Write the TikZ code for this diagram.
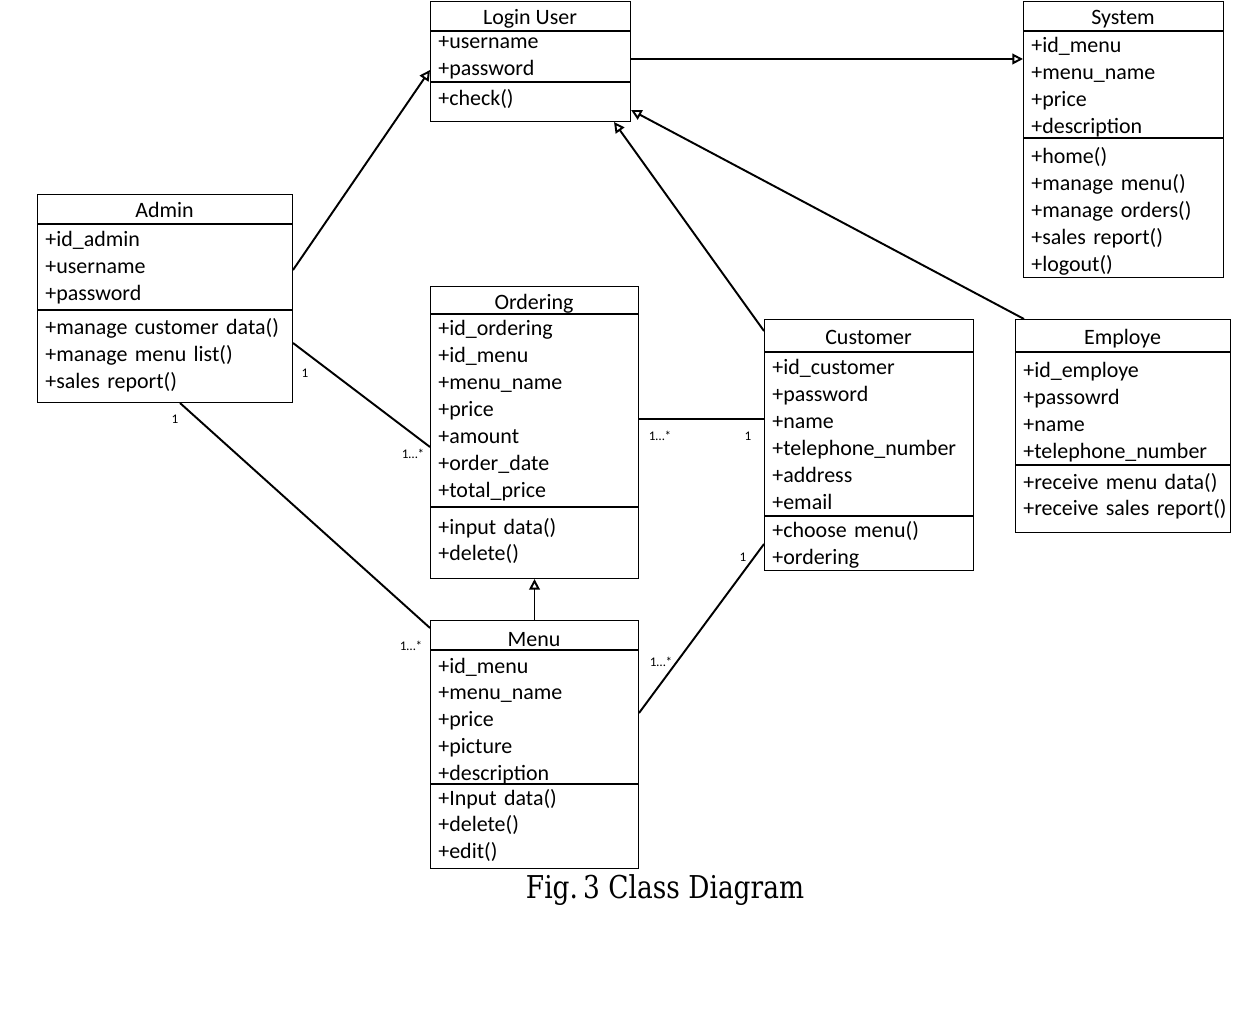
\documentclass[tikz,border=0pt]{standalone}
\usepackage{fontspec}
\setmainfont{Carlito}
\newfontfamily\captionfont[FakeStretch=0.84]{DejaVu Serif}
\usepackage{tikz}
\usetikzlibrary{positioning,arrows.meta}
\newcommand{\classfont}{\fontsize{12.5}{15.36}\selectfont}

\begin{document}
\begin{tikzpicture}[x=0.02cm, y=-0.02cm,
    classbox/.style={draw, line width=0.6pt, anchor=north west, inner sep=0pt},
    title/.style={anchor=base, inner sep=0pt, font=\classfont},
    members/.style={anchor=base west, inner sep=0pt, text width=6cm, align=left, font=\classfont},
    thinrule/.style={line width=0.6pt},
    thickrule/.style={line width=1.1pt},
    link/.style={line width=1.1pt},
    gen/.style={link, -{Triangle[open, length=6pt, width=6pt]}},
    mult/.style={inner sep=0pt, font=\fontsize{7.5}{9}\selectfont}]
    \useasboundingbox (0,0) rectangle (1247,1023);

    \node[classbox, minimum width=4cm, minimum height=2.4cm] (login) at (430,1) {};
    \node[title] (login-title) at (530,25) {Login User};
    \draw[thinrule] (login.west |- 0,31) -- (login.east |- 0,31);
    \node[members] (login-attr) at (438,49) {+username\\+password};
    \draw[thickrule] (login.west |- 0,82) -- (login.east |- 0,82);
    \node[members] (login-ops) at (438,106) {+check()};

    \node[classbox, minimum width=4cm, minimum height=5.52cm] (system) at (1023,1) {};
    \node[title] (system-title) at (1123,25) {System};
    \draw[thinrule] (system.west |- 0,31) -- (system.east |- 0,31);
    \node[members] (system-attr) at (1031,53)
      {+id\_menu\\+menu\_name\\+price\\+description};
    \draw[thickrule] (system.west |- 0,138) -- (system.east |- 0,138);
    \node[members] (system-ops) at (1031,164)
      {+home()\\+manage menu()\\+manage orders()\\+sales report()\\+logout()};

    \node[classbox, minimum width=5.1cm, minimum height=4.16cm] (admin) at (37,194) {};
    \node[title] (admin-title) at (164.5,218) {Admin};
    \draw[thickrule] (admin.west |- 0,224) -- (admin.east |- 0,224);
    \node[members] (admin-attr) at (45,247) {+id\_admin\\+username\\+password};
    \draw[thickrule] (admin.west |- 0,310) -- (admin.east |- 0,310);
    \node[members] (admin-ops) at (45,335)
      {+manage customer data()\\+manage menu list()\\+sales report()};

    \node[classbox, minimum width=4.16cm, minimum height=5.84cm] (ordering) at (430,286) {};
    \node[title] (ordering-title) at (534,310) {Ordering};
    \draw[thickrule] (ordering.west |- 0,314) -- (ordering.east |- 0,314);
    \node[members] (ordering-attr) at (438,336)
      {+id\_ordering\\+id\_menu\\+menu\_name\\+price\\+amount\\+order\_date\\+total\_price};
    \draw[thickrule] (ordering.west |- 0,507) -- (ordering.east |- 0,507);
    \node[members] (ordering-ops) at (438,534) {+input data()\\+delete()};

    \node[classbox, minimum width=4.18cm, minimum height=5.02cm] (customer) at (764,319) {};
    \node[title] (customer-title) at (868.5,345) {Customer};
    \draw[thickrule] (customer.west |- 0,352) -- (customer.east |- 0,352);
    \node[members] (customer-attr) at (772,375)
      {+id\_customer\\+password\\+name\\+telephone\_number\\+address\\+email};
    \draw[thickrule] (customer.west |- 0,516) -- (customer.east |- 0,516);
    \node[members] (customer-ops) at (772,538) {+choose menu()\\+ordering};

    \node[classbox, minimum width=4.3cm, minimum height=4.26cm] (employe) at (1015,319) {};
    \node[title] (employe-title) at (1122.5,345) {Employe};
    \draw[thickrule] (employe.west |- 0,352) -- (employe.east |- 0,352);
    \node[members] (employe-attr) at (1023,378)
      {+id\_employe\\+passowrd\\+name\\+telephone\_number};
    \draw[thickrule] (employe.west |- 0,465) -- (employe.east |- 0,465);
    \node[members] (employe-ops) at (1023,489)
      {+receive menu data()\\+receive sales report()};

    \node[classbox, minimum width=4.16cm, minimum height=4.96cm] (menu) at (430,620) {};
    \node[title] (menu-title) at (534,646) {Menu};
    \draw[thickrule] (menu.west |- 0,650) -- (menu.east |- 0,650);
    \node[members] (menu-attr) at (438,673)
      {+id\_menu\\+menu\_name\\+price\\+picture\\+description};
    \draw[thickrule] (menu.west |- 0,784) -- (menu.east |- 0,784);
    \node[members] (menu-ops) at (438,805) {+Input data()\\+delete()\\+edit()};

    \draw[gen] (login.east |- 0,59) -- (system.west |- 0,59);
    \draw[gen] (admin.east |- 0,270) -- (login.west |- 0,70);
    \draw[gen] (customer.west |- 0,331) -- (login.south -| 614,0);
    \draw[gen] (employe.north -| 1024,0) -- (login.east |- 0,110);
    \draw[gen] (menu.north) -- (ordering.south);
    \draw[link] (admin.east |- 0,343) -- (ordering.west |- 0,447);
    \draw[link] (admin.south -| 180,0) -- (menu.west |- 0,628);
    \draw[link] (ordering.east |- 0,419) -- (customer.west |- 0,419);
    \draw[link] (menu.east |- 0,713) -- (customer.west |- 0,544);

    \node[mult] (m-admin-ord) at (305,373) {1};
    \node[mult] (m-ord-admin) at (413,454) {1…*};
    \node[mult] (m-admin-menu) at (175,419) {1};
    \node[mult] (m-menu-admin) at (411,646) {1…*};
    \node[mult] (m-ord-cust) at (660,436) {1…*};
    \node[mult] (m-cust-ord) at (748,436) {1};
    \node[mult] (m-cust-menu) at (743,557) {1};
    \node[mult] (m-menu-cust) at (661,662) {1…*};

    \node[anchor=base, inner sep=0pt, font=\captionfont\fontsize{17.9}{20}\selectfont]
      (caption) at (665,898) {Fig.\,3 Class Diagram};
\end{tikzpicture}
\end{document}
